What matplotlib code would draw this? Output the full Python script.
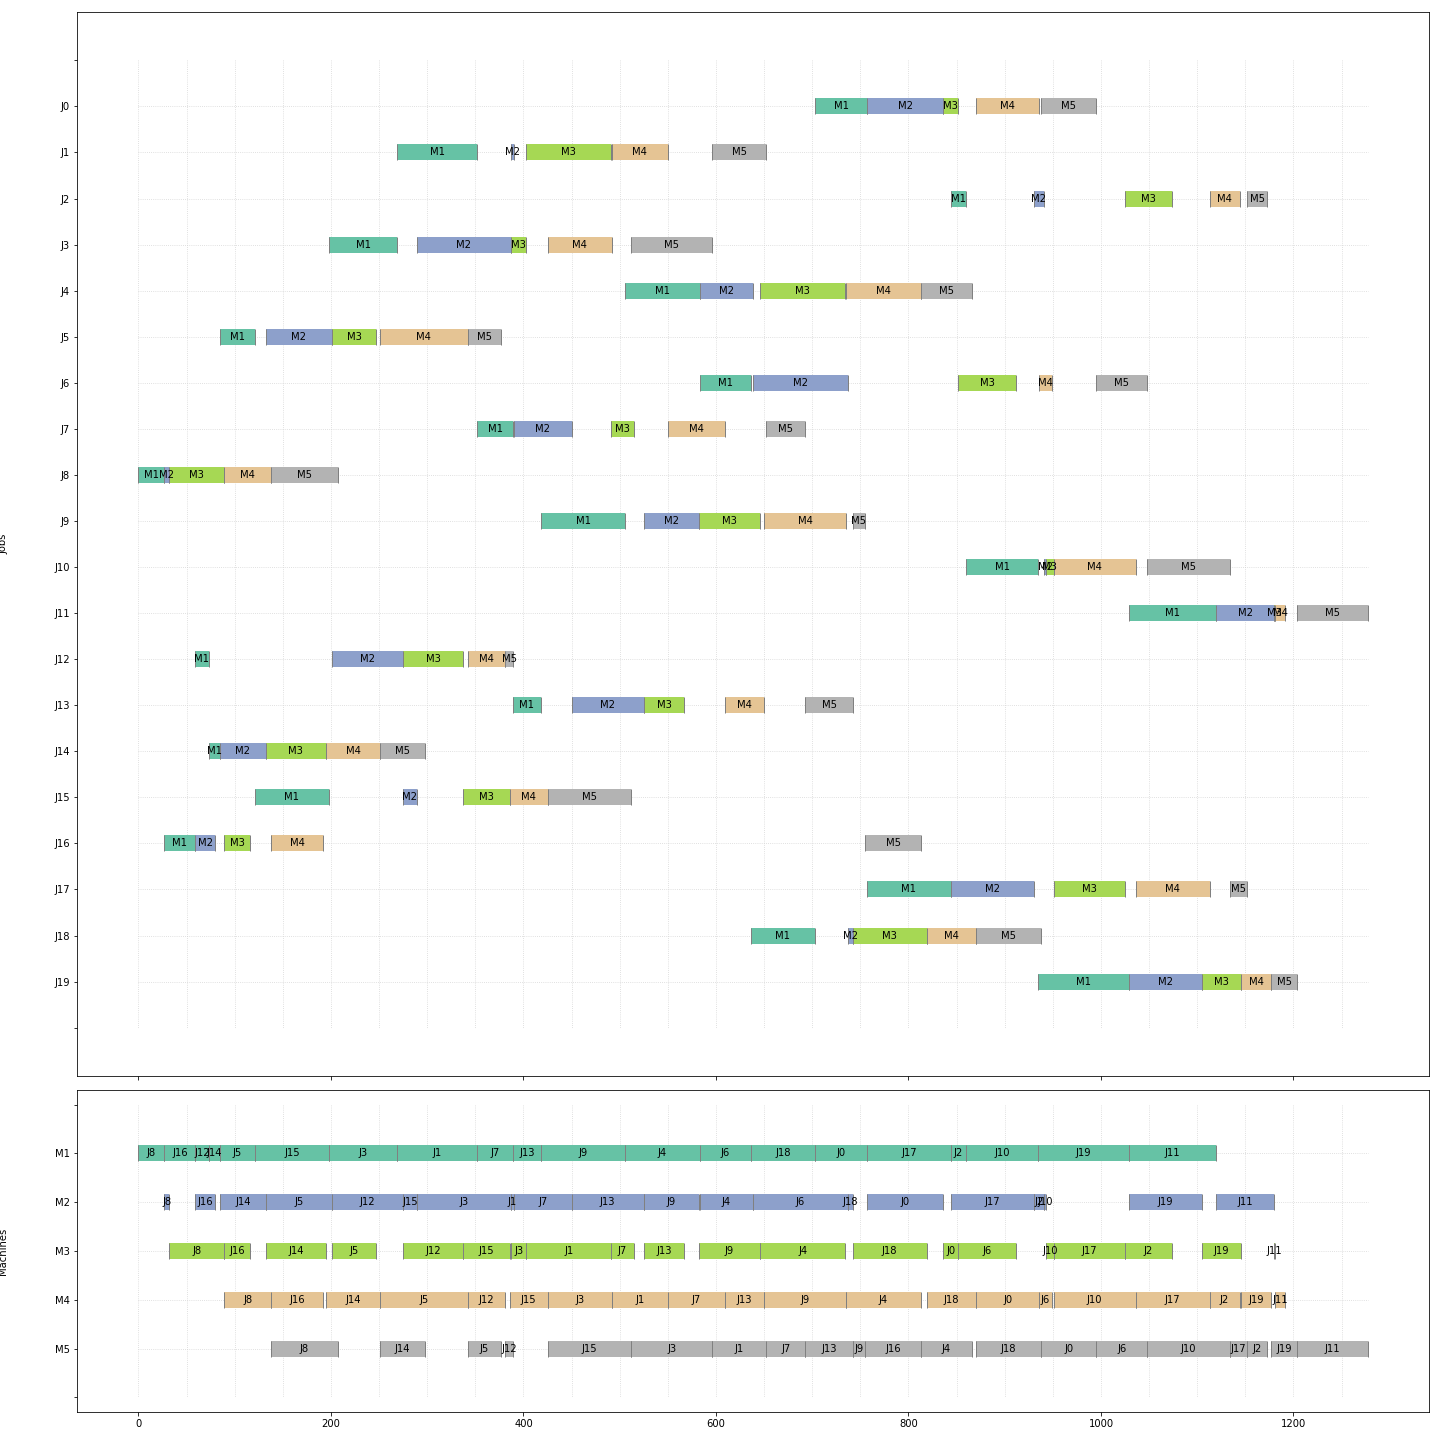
import numpy as np
import matplotlib.pyplot as plt

jobs = ['J%d' % i for i in range(20)]
machines = ['M1', 'M2', 'M3', 'M4', 'M5']

# start / end of every job on each machine (index = job number)
m1_start = [703, 269, 844, 198, 506, 85, 583, 352, 0, 418, 860, 1029, 59, 389, 73, 121, 27, 757, 636, 935]
m1_end = [757, 352, 860, 269, 583, 121, 636, 389, 27, 506, 935, 1120, 73, 418, 85, 198, 59, 844, 703, 1029]
m2_start = [757, 387, 930, 289, 583, 132, 638, 390, 27, 525, 941, 1120, 201, 450, 85, 275, 59, 844, 737, 1029]
m2_end = [836, 390, 941, 387, 638, 201, 737, 450, 32, 582, 943, 1180, 275, 525, 132, 289, 80, 930, 742, 1105]
m3_start = [836, 403, 1025, 387, 646, 201, 852, 491, 32, 582, 943, 1180, 275, 525, 132, 337, 89, 951, 742, 1105]
m3_end = [852, 491, 1074, 403, 734, 247, 912, 515, 89, 646, 951, 1181, 337, 567, 195, 386, 116, 1025, 819, 1146]
m4_start = [870, 492, 1113, 425, 735, 251, 936, 550, 89, 650, 951, 1181, 342, 609, 195, 386, 138, 1036, 819, 1146]
m4_end = [936, 550, 1144, 492, 813, 342, 949, 609, 138, 735, 1036, 1191, 381, 650, 251, 425, 192, 1113, 870, 1177]
m5_start = [938, 596, 1152, 512, 813, 342, 995, 652, 138, 742, 1048, 1204, 381, 693, 251, 425, 755, 1134, 870, 1177]
m5_end = [995, 652, 1173, 596, 866, 377, 1048, 693, 207, 755, 1134, 1277, 389, 742, 298, 512, 813, 1152, 938, 1204]

starts = [m1_start, m2_start, m3_start, m4_start, m5_start]
ends = [m1_end, m2_end, m3_end, m4_end, m5_end]

colors = plt.cm.Set2(np.linspace(0, 1, 5))
makespan = max(m5_end)

fig = plt.figure(figsize=(20, 20), dpi=72)
ax1 = fig.add_axes([77/1440, 1 - 1076/1440, 1352/1440, 1064/1440])
ax2 = fig.add_axes([77/1440, 1 - 1412/1440, 1352/1440, 322/1440], sharex=ax1)


def draw_bar(ax, y, s, e, c, label):
    ax.hlines(y, s, e, colors=[c], linewidth=16)
    ax.plot([s, e], [y, y], ls='none', marker='|', ms=16, mec='gray', mew=1)
    ax.text((s + e) / 2, y, label, ha='center', va='center', fontsize=10)


# dotted guide lines
ticks50 = np.arange(0, makespan, 50)
ax1.hlines(range(len(jobs)), 0, makespan, colors='lightgray', linestyles=':', linewidth=0.8)
ax1.vlines(ticks50, -1, len(jobs), colors='lightgray', linestyles=':', linewidth=0.8)
ax2.hlines(range(len(machines)), 0, makespan, colors='lightgray', linestyles=':', linewidth=0.8)
ax2.vlines(ticks50, -1, len(machines), colors='lightgray', linestyles=':', linewidth=0.8)

# job view
for j in range(len(jobs)):
    for m in range(len(machines)):
        draw_bar(ax1, j, starts[m][j], ends[m][j], colors[m], machines[m])

# machine view
for m in range(len(machines)):
    for j in range(len(jobs)):
        draw_bar(ax2, m, starts[m][j], ends[m][j], colors[m], jobs[j])

ax1.set_yticks(range(-1, len(jobs) + 1))
ax1.set_yticklabels([''] + jobs + [''])
ax1.invert_yaxis()
ax1.tick_params(labelbottom=False, labelsize=10)

ax2.set_yticks(range(-1, len(machines) + 1))
ax2.set_yticklabels([''] + machines + [''])
ax2.invert_yaxis()
ax2.set_xticks(range(0, 1300, 200))
ax2.tick_params(labelsize=10)

fig.text(3.5/1440, 1 - 544/1440, 'Jobs', rotation=90, ha='center', va='center', fontsize=10)
fig.text(3.5/1440, 1 - 1251/1440, 'Machines', rotation=90, ha='center', va='center', fontsize=10)

fig.savefig('out.png', dpi=72)
